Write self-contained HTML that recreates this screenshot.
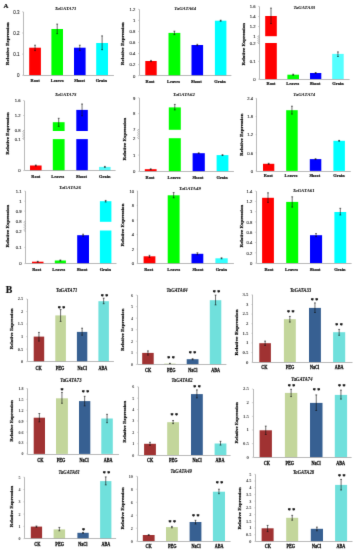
<!DOCTYPE html>
<html><head><meta charset="utf-8"><title>Figure</title>
<style>
html,body{margin:0;padding:0;background:#fff;}
body{width:356px;height:550px;overflow:hidden;}
svg{display:block;font-family:"Liberation Serif",serif;font-weight:bold;fill:#111;filter:url(#bl)}
.yl,.xl,.pl{stroke:#111;stroke-width:.2px}
.a{stroke:#a2a2a2;stroke-width:.5;fill:none}
.e{stroke:#111;stroke-width:.6;fill:none}
.t{font-family:"Liberation Sans",sans-serif;font-weight:normal;font-size:4.5px;text-anchor:end;fill:#2a2a2a;stroke:#2a2a2a;stroke-width:.1px}
.tb{font-size:4.2px;text-anchor:end;fill:#3a3a3a}
.ti{font-size:4.75px;stroke:#111;stroke-width:.06px;font-style:italic;text-anchor:middle}
.yl{font-size:5px;text-anchor:middle}
.xl{font-size:4.85px;text-anchor:middle}
.st{font-size:6px;text-anchor:middle;letter-spacing:1.5px;stroke:#111;stroke-width:.22px}
</style></head><body>
<svg width="356" height="550" viewBox="0 0 356 550">
<defs><filter id="bl" x="0" y="0" width="356" height="550" filterUnits="userSpaceOnUse" color-interpolation-filters="sRGB"><feConvolveMatrix order="3" kernelMatrix="1 10 1 10 100 10 1 10 1" divisor="144" edgeMode="duplicate" preserveAlpha="false"/></filter></defs>
<rect width="356" height="550" fill="#fff"/>
<text x="3.6" y="7.5" class="pl" style="font-size:6.8px">A</text>
<text x="5.7" y="292.5" class="pl" style="font-size:9.8px">B</text>
<g><rect x="29.2" y="47.7" width="11.7" height="27.6" fill="#ff0000"/><rect x="51.4" y="29" width="11.6" height="46.3" fill="#00ff00"/><rect x="74" y="47.7" width="11.6" height="27.6" fill="#0000ff"/><rect x="96.2" y="43" width="11.8" height="32.3" fill="#00ffff"/><path d="M35.05 45.2V50.6M34.15 45.2h1.8M34.15 50.6h1.8" class="e"/><path d="M57.2 24.1V33.7M56.3 24.1h1.8M56.3 33.7h1.8" class="e"/><path d="M79.8 45.2V50.6M78.9 45.2h1.8M78.9 50.6h1.8" class="e"/><path d="M102.1 35.9V49.7M101.2 35.9h1.8M101.2 49.7h1.8" class="e"/><path d="M23.5 11.8V75.5H113.9" class="a" style="stroke-width:.75"/><path d="M23.1 11.8h-1" class="a"/><text x="19.5" y="13.6" class="t" style="font-size:4.5px">0.3</text><path d="M23.1 32.97h-1" class="a"/><text x="19.5" y="34.77" class="t" style="font-size:4.5px">0.2</text><path d="M23.1 54.13h-1" class="a"/><text x="19.5" y="55.93" class="t" style="font-size:4.5px">0.1</text><path d="M23.1 75.3h-1" class="a"/><text x="19.5" y="77.1" class="t" style="font-size:4.5px">0</text><text x="65.6" y="9.6" class="ti">TaGATA71</text><text transform="translate(8.7 43.7) rotate(-90)" class="yl" textLength="42.9" lengthAdjust="spacingAndGlyphs">Relative Expression</text><text transform="translate(35.1 81.9) scale(.9 1)" class="xl" style="font-size:4.9px">Root</text><text transform="translate(57.2 81.9) scale(.9 1)" class="xl" style="font-size:4.9px">Leaves</text><text transform="translate(79.6 81.9) scale(.9 1)" class="xl" style="font-size:4.9px">Shoot</text><text transform="translate(101.3 81.9) scale(.9 1)" class="xl" style="font-size:4.9px">Grain</text></g>
<g><rect x="145.3" y="61" width="11.4" height="14.7" fill="#ff0000"/><rect x="168.5" y="32.9" width="11.8" height="42.8" fill="#00ff00"/><rect x="191.5" y="45" width="11.6" height="30.7" fill="#0000ff"/><rect x="214.9" y="20.7" width="11.5" height="55" fill="#00ffff"/><path d="M151 60.4V61.6M150.1 60.4h1.8M150.1 61.6h1.8" class="e"/><path d="M174.4 31.2V34.6M173.5 31.2h1.8M173.5 34.6h1.8" class="e"/><path d="M197.3 44.3V45.7M196.4 44.3h1.8M196.4 45.7h1.8" class="e"/><path d="M220.65 20.2V21.2M219.75 20.2h1.8M219.75 21.2h1.8" class="e"/><path d="M139.5 9.3V75.5H231.4" class="a" style="stroke-width:.75"/><path d="M139 9.3h-1" class="a"/><text x="135.4" y="11.1" class="t" style="font-size:4.2px">1.2</text><path d="M139 20.37h-1" class="a"/><text x="135.4" y="22.17" class="t" style="font-size:4.2px">1</text><path d="M139 31.43h-1" class="a"/><text x="135.4" y="33.23" class="t" style="font-size:4.2px">0.8</text><path d="M139 42.5h-1" class="a"/><text x="135.4" y="44.3" class="t" style="font-size:4.2px">0.6</text><path d="M139 53.57h-1" class="a"/><text x="135.4" y="55.37" class="t" style="font-size:4.2px">0.4</text><path d="M139 64.63h-1" class="a"/><text x="135.4" y="66.43" class="t" style="font-size:4.2px">0.2</text><path d="M139 75.7h-1" class="a"/><text x="135.4" y="77.5" class="t" style="font-size:4.2px">0</text><text x="185.2" y="9.6" class="ti">TaGATA64</text><text transform="translate(123.8 43.7) rotate(-90)" class="yl" textLength="42.9" lengthAdjust="spacingAndGlyphs">Relative Expression</text><text transform="translate(150 82.8) scale(.9 1)" class="xl" style="font-size:4.9px">Root</text><text transform="translate(173.5 82.8) scale(.9 1)" class="xl" style="font-size:4.9px">Leaves</text><text transform="translate(196.4 82.8) scale(.9 1)" class="xl" style="font-size:4.9px">Shoot</text><text transform="translate(220 82.8) scale(.9 1)" class="xl" style="font-size:4.9px">Grain</text></g>
<g><rect x="265.2" y="16" width="11.6" height="63.2" fill="#ff0000"/><rect x="287.4" y="74.7" width="11.6" height="4.5" fill="#00ff00"/><rect x="310" y="73" width="11.3" height="6.2" fill="#0000ff"/><rect x="332.2" y="53.9" width="11.5" height="25.3" fill="#55ffff"/><rect x="260.1" y="36.2" width="90.5" height="6.8" fill="#fff"/><path d="M271 8.1V23.6M270.1 8.1h1.8M270.1 23.6h1.8" class="e"/><path d="M293.2 74.2V75.2M292.3 74.2h1.8M292.3 75.2h1.8" class="e"/><path d="M315.65 72.5V73.5M314.75 72.5h1.8M314.75 73.5h1.8" class="e"/><path d="M337.95 51.9V56.5M337.05 51.9h1.8M337.05 56.5h1.8" class="e"/><path d="M259.5 6.4V79.5H349.6" class="a" style="stroke-width:.75"/><path d="M259.1 6.4h-1" class="a"/><text x="255.5" y="8.2" class="t" style="font-size:4.2px">1.6</text><path d="M259.1 16.5h-1" class="a"/><text x="255.5" y="18.3" class="t" style="font-size:4.2px">1.4</text><path d="M259.1 26.5h-1" class="a"/><text x="255.5" y="28.3" class="t" style="font-size:4.2px">1.2</text><path d="M259.1 36h-1" class="a"/><text x="255.5" y="37.8" class="t" style="font-size:4.2px">1</text><path d="M259.1 43.5h-1" class="a"/><text x="255.5" y="45.3" class="t" style="font-size:4.2px">0.2</text><path d="M259.1 61.4h-1" class="a"/><text x="255.5" y="63.2" class="t" style="font-size:4.2px">0.1</text><path d="M259.1 79.2h-1" class="a"/><text x="255.5" y="81" class="t" style="font-size:4.2px">0</text><path d="M259.3 35.6L257.5 36.6L259.3 37.6L257.5 38.6L259.3 39.6L257.5 40.6L259.3 41.6L257.5 42.6L259.3 43.6" class="a" style="stroke:#777;stroke-width:.35"/><text x="304.3" y="9.1" class="ti">TaGATA33</text><text transform="translate(244.7 44.2) rotate(-90)" class="yl" textLength="42.4" lengthAdjust="spacingAndGlyphs">Relative Expression</text><text transform="translate(271 85.3) scale(.9 1)" class="xl" style="font-size:4.9px">Root</text><text transform="translate(292.8 85.3) scale(.9 1)" class="xl" style="font-size:4.9px">Leaves</text><text transform="translate(315.1 85.3) scale(.9 1)" class="xl" style="font-size:4.9px">Shoot</text><text transform="translate(338 85.3) scale(.9 1)" class="xl" style="font-size:4.9px">Grain</text></g>
<g><rect x="30" y="165.5" width="11.6" height="5.1" fill="#ff0000"/><rect x="52.8" y="122.2" width="11.8" height="48.4" fill="#00ff00"/><rect x="76.3" y="109.9" width="11.5" height="60.7" fill="#0000ff"/><rect x="99.1" y="166.9" width="11.5" height="3.7" fill="#55f8f8"/><rect x="25.1" y="131" width="91.5" height="8.1" fill="#fff"/><path d="M35.8 165V166M34.9 165h1.8M34.9 166h1.8" class="e"/><path d="M58.7 118.3V126.4M57.8 118.3h1.8M57.8 126.4h1.8" class="e"/><path d="M82.05 104V115.8M81.15 104h1.8M81.15 115.8h1.8" class="e"/><path d="M104.85 166.4V167.4M103.95 166.4h1.8M103.95 167.4h1.8" class="e"/><path d="M24.5 100.6V170.5H115.6" class="a" style="stroke-width:.75"/><path d="M24.1 100.6h-1" class="a"/><text x="20.5" y="102.4" class="t" style="font-size:4.2px">1.6</text><path d="M24.1 115.5h-1" class="a"/><text x="20.5" y="117.3" class="t" style="font-size:4.2px">1.2</text><path d="M24.1 130.5h-1" class="a"/><text x="20.5" y="132.3" class="t" style="font-size:4.2px">0.8</text><path d="M24.1 138.9h-1" class="a"/><text x="20.5" y="140.7" class="t" style="font-size:4.2px">0.1</text><path d="M24.1 170.6h-1" class="a"/><text x="20.5" y="172.4" class="t" style="font-size:4.2px">0</text><path d="M24.3 130.4L22.5 131.56L24.3 132.72L22.5 133.89L24.3 135.05L22.5 136.21L24.3 137.38L22.5 138.54L24.3 139.7" class="a" style="stroke:#777;stroke-width:.35"/><text x="65.6" y="95.9" class="ti">TaGATA73</text><text transform="translate(8.7 133.5) rotate(-90)" class="yl" textLength="42.4" lengthAdjust="spacingAndGlyphs">Relative Expression</text><text transform="translate(35.8 177.5) scale(.9 1)" class="xl" style="font-size:4.9px">Root</text><text transform="translate(57.8 177.5) scale(.9 1)" class="xl" style="font-size:4.9px">Leaves</text><text transform="translate(81.5 177.5) scale(.9 1)" class="xl" style="font-size:4.9px">Shoot</text><text transform="translate(104.7 177.5) scale(.9 1)" class="xl" style="font-size:4.9px">Grain</text></g>
<g><rect x="144.8" y="169.2" width="11.8" height="2.2" fill="#ff0000"/><rect x="168.8" y="107.4" width="12" height="64" fill="#00ff00"/><rect x="192.6" y="153.2" width="12.2" height="18.2" fill="#0000ff"/><rect x="216.6" y="155.1" width="11.8" height="16.3" fill="#00ffff"/><rect x="139.9" y="129.8" width="95" height="8.4" fill="#fff"/><path d="M150.7 168.8V169.6M149.8 168.8h1.8M149.8 169.6h1.8" class="e"/><path d="M174.8 104.4V109.9M173.9 104.4h1.8M173.9 109.9h1.8" class="e"/><path d="M198.7 152.8V153.6M197.8 152.8h1.8M197.8 153.6h1.8" class="e"/><path d="M222.5 154.7V155.5M221.6 154.7h1.8M221.6 155.5h1.8" class="e"/><path d="M139.5 97.8V171.5H233.9" class="a" style="stroke-width:.75"/><path d="M138.9 97.8h-1" class="a"/><text x="135.3" y="99.6" class="t" style="font-size:4.2px">9</text><path d="M138.9 113.6h-1" class="a"/><text x="135.3" y="115.4" class="t" style="font-size:4.2px">8</text><path d="M138.9 129.6h-1" class="a"/><text x="135.3" y="131.4" class="t" style="font-size:4.2px">7</text><path d="M138.9 138.6h-1" class="a"/><text x="135.3" y="140.4" class="t" style="font-size:4.2px">2</text><path d="M138.9 155.1h-1" class="a"/><text x="135.3" y="156.9" class="t" style="font-size:4.2px">1</text><path d="M138.9 171.4h-1" class="a"/><text x="135.3" y="173.2" class="t" style="font-size:4.2px">0</text><path d="M139.1 129.2L137.3 130.4L139.1 131.6L137.3 132.8L139.1 134L137.3 135.2L139.1 136.4L137.3 137.6L139.1 138.8" class="a" style="stroke:#777;stroke-width:.35"/><text x="183.9" y="95.9" class="ti">TaGATA62</text><text transform="translate(126 139.1) rotate(-90)" class="yl" textLength="42.7" lengthAdjust="spacingAndGlyphs">Relative Expression</text><text transform="translate(150 178.7) scale(.9 1)" class="xl" style="font-size:4.9px">Root</text><text transform="translate(174 178.7) scale(.9 1)" class="xl" style="font-size:4.9px">Leaves</text><text transform="translate(198 178.7) scale(.9 1)" class="xl" style="font-size:4.9px">Shoot</text><text transform="translate(222.1 178.7) scale(.9 1)" class="xl" style="font-size:4.9px">Grain</text></g>
<g><rect x="263" y="163.8" width="11.3" height="7.1" fill="#ff0000"/><rect x="286.2" y="110.2" width="11.5" height="60.7" fill="#00ff00"/><rect x="309.8" y="159.1" width="11.5" height="11.8" fill="#0000ff"/><rect x="333.4" y="140.8" width="11.5" height="30.1" fill="#00ffff"/><path d="M268.65 163.3V164.3M267.75 163.3h1.8M267.75 164.3h1.8" class="e"/><path d="M291.95 106.2V114.1M291.05 106.2h1.8M291.05 114.1h1.8" class="e"/><path d="M315.55 158.7V159.5M314.65 158.7h1.8M314.65 159.5h1.8" class="e"/><path d="M339.15 140.4V141.2M338.25 140.4h1.8M338.25 141.2h1.8" class="e"/><path d="M256.5 98.4V171.5H350.8" class="a" style="stroke-width:.75"/><path d="M256.6 98.4h-1" class="a"/><text x="253" y="100.2" class="t" style="font-size:4.2px">2.4</text><path d="M256.6 116.53h-1" class="a"/><text x="253" y="118.33" class="t" style="font-size:4.2px">1.8</text><path d="M256.6 134.65h-1" class="a"/><text x="253" y="136.45" class="t" style="font-size:4.2px">1.2</text><path d="M256.6 152.78h-1" class="a"/><text x="253" y="154.58" class="t" style="font-size:4.2px">0.6</text><path d="M256.6 170.9h-1" class="a"/><text x="253" y="172.7" class="t" style="font-size:4.2px">0</text><text x="304.2" y="95.9" class="ti">TaGATA74</text><text transform="translate(242.9 134.7) rotate(-90)" class="yl" textLength="42.4" lengthAdjust="spacingAndGlyphs">Relative Expression</text><text transform="translate(268.3 177.2) scale(.9 1)" class="xl" style="font-size:4.9px">Root</text><text transform="translate(291 177.2) scale(.9 1)" class="xl" style="font-size:4.9px">Leaves</text><text transform="translate(314.8 177.2) scale(.9 1)" class="xl" style="font-size:4.9px">Shoot</text><text transform="translate(339 177.2) scale(.9 1)" class="xl" style="font-size:4.9px">Grain</text></g>
<g><rect x="32" y="261.7" width="11.5" height="1.9" fill="#ff0000"/><rect x="54.8" y="260.5" width="11.1" height="3.1" fill="#00ff00"/><rect x="77.2" y="235.2" width="11.8" height="28.4" fill="#0000ff"/><rect x="99.9" y="201.2" width="11.5" height="62.4" fill="#00ffff"/><rect x="26.3" y="221.8" width="91.2" height="8.7" fill="#fff"/><path d="M37.75 261.3V262.1M36.85 261.3h1.8M36.85 262.1h1.8" class="e"/><path d="M60.35 260V261M59.45 260h1.8M59.45 261h1.8" class="e"/><path d="M83.1 234.2V236.2M82.2 234.2h1.8M82.2 236.2h1.8" class="e"/><path d="M105.65 200.4V202M104.75 200.4h1.8M104.75 202h1.8" class="e"/><path d="M25.5 191.1V263.5H116.5" class="a" style="stroke-width:.75"/><path d="M25.3 191.1h-1" class="a"/><text x="21.7" y="192.9" class="t" style="font-size:4.2px">1.1</text><path d="M25.3 201.2h-1" class="a"/><text x="21.7" y="203" class="t" style="font-size:4.2px">1</text><path d="M25.3 211.1h-1" class="a"/><text x="21.7" y="212.9" class="t" style="font-size:4.2px">0.9</text><path d="M25.3 221.3h-1" class="a"/><text x="21.7" y="223.1" class="t" style="font-size:4.2px">0.8</text><path d="M25.3 231.4h-1" class="a"/><text x="21.7" y="233.2" class="t" style="font-size:4.2px">0.2</text><path d="M25.3 247.4h-1" class="a"/><text x="21.7" y="249.2" class="t" style="font-size:4.2px">0.1</text><path d="M25.3 263.6h-1" class="a"/><text x="21.7" y="265.4" class="t" style="font-size:4.2px">0</text><path d="M25.5 221.2L23.7 222.44L25.5 223.68L23.7 224.91L25.5 226.15L23.7 227.39L25.5 228.62L23.7 229.86L25.5 231.1" class="a" style="stroke:#777;stroke-width:.35"/><text x="69.9" y="189.2" class="ti">TaGATA26</text><text transform="translate(9.2 226.1) rotate(-90)" class="yl" textLength="42.7" lengthAdjust="spacingAndGlyphs">Relative Expression</text><text transform="translate(36.7 270.8) scale(.9 1)" class="xl" style="font-size:4.9px">Root</text><text transform="translate(58.8 270.8) scale(.9 1)" class="xl" style="font-size:4.9px">Leaves</text><text transform="translate(82.1 270.8) scale(.9 1)" class="xl" style="font-size:4.9px">Shoot</text><text transform="translate(105.3 270.8) scale(.9 1)" class="xl" style="font-size:4.9px">Grain</text></g>
<g><rect x="143.6" y="256.3" width="11.8" height="7.3" fill="#ff0000"/><rect x="167.7" y="195.3" width="11.9" height="68.3" fill="#00ff00"/><rect x="191.5" y="253.8" width="11.8" height="9.8" fill="#0000ff"/><rect x="215.4" y="258.3" width="12.3" height="5.3" fill="#33ffff"/><path d="M149.5 255.3V257.3M148.6 255.3h1.8M148.6 257.3h1.8" class="e"/><path d="M173.65 192.6V197.8M172.75 192.6h1.8M172.75 197.8h1.8" class="e"/><path d="M197.4 252.8V254.8M196.5 252.8h1.8M196.5 254.8h1.8" class="e"/><path d="M221.55 257.8V258.8M220.65 257.8h1.8M220.65 258.8h1.8" class="e"/><path d="M137.5 190.9V263.5H233.9" class="a" style="stroke-width:.75"/><path d="M137.7 190.9h-1" class="a"/><text x="134.1" y="192.7" class="t" style="font-size:4.2px">10</text><path d="M137.7 205.44h-1" class="a"/><text x="134.1" y="207.24" class="t" style="font-size:4.2px">8</text><path d="M137.7 219.98h-1" class="a"/><text x="134.1" y="221.78" class="t" style="font-size:4.2px">6</text><path d="M137.7 234.52h-1" class="a"/><text x="134.1" y="236.32" class="t" style="font-size:4.2px">4</text><path d="M137.7 249.06h-1" class="a"/><text x="134.1" y="250.86" class="t" style="font-size:4.2px">2</text><path d="M137.7 263.6h-1" class="a"/><text x="134.1" y="265.4" class="t" style="font-size:4.2px">0</text><text x="189.9" y="189.5" class="ti">TaGATA49</text><text transform="translate(124.2 225) rotate(-90)" class="yl" textLength="42.9" lengthAdjust="spacingAndGlyphs">Relative Expression</text><text transform="translate(148.7 270.8) scale(.9 1)" class="xl" style="font-size:4.9px">Root</text><text transform="translate(173.8 270.8) scale(.9 1)" class="xl" style="font-size:4.9px">Leaves</text><text transform="translate(198 270.8) scale(.9 1)" class="xl" style="font-size:4.9px">Shoot</text><text transform="translate(221.3 270.8) scale(.9 1)" class="xl" style="font-size:4.9px">Grain</text></g>
<g><rect x="262.1" y="197.8" width="11.8" height="65.3" fill="#ff0000"/><rect x="286.2" y="201.9" width="12" height="61.2" fill="#00ff00"/><rect x="310" y="235.2" width="12.1" height="27.9" fill="#0000ff"/><rect x="334.4" y="212" width="11.8" height="51.1" fill="#00ffff"/><path d="M268 192.8V202.4M267.1 192.8h1.8M267.1 202.4h1.8" class="e"/><path d="M292.2 196.8V207.1M291.3 196.8h1.8M291.3 207.1h1.8" class="e"/><path d="M316.05 233.6V236.6M315.15 233.6h1.8M315.15 236.6h1.8" class="e"/><path d="M340.3 208.3V215M339.4 208.3h1.8M339.4 215h1.8" class="e"/><path d="M256.5 191.1V263.5H351.6" class="a" style="stroke-width:.75"/><path d="M255.9 191.1h-1" class="a"/><text x="252.3" y="192.9" class="t" style="font-size:4.2px">1.4</text><path d="M255.9 201.39h-1" class="a"/><text x="252.3" y="203.19" class="t" style="font-size:4.2px">1.2</text><path d="M255.9 211.67h-1" class="a"/><text x="252.3" y="213.47" class="t" style="font-size:4.2px">1</text><path d="M255.9 221.96h-1" class="a"/><text x="252.3" y="223.76" class="t" style="font-size:4.2px">0.8</text><path d="M255.9 232.24h-1" class="a"/><text x="252.3" y="234.04" class="t" style="font-size:4.2px">0.6</text><path d="M255.9 242.53h-1" class="a"/><text x="252.3" y="244.33" class="t" style="font-size:4.2px">0.4</text><path d="M255.9 252.81h-1" class="a"/><text x="252.3" y="254.61" class="t" style="font-size:4.2px">0.2</text><path d="M255.9 263.1h-1" class="a"/><text x="252.3" y="264.9" class="t" style="font-size:4.2px">0</text><text x="303.7" y="192.1" class="ti">TaGATA61</text><text transform="translate(242.7 226.1) rotate(-90)" class="yl" textLength="42.7" lengthAdjust="spacingAndGlyphs">Relative Expression</text><text transform="translate(268.9 270.8) scale(.9 1)" class="xl" style="font-size:4.9px">Root</text><text transform="translate(291.5 270.8) scale(.9 1)" class="xl" style="font-size:4.9px">Leaves</text><text transform="translate(315.2 270.8) scale(.9 1)" class="xl" style="font-size:4.9px">Shoot</text><text transform="translate(339.8 270.8) scale(.9 1)" class="xl" style="font-size:4.9px">Grain</text></g>
<g><rect x="33.7" y="336.6" width="10.5" height="25.1" fill="#a03232"/><rect x="55.3" y="315.4" width="10.6" height="46.3" fill="#c3d69b"/><rect x="76.9" y="331.9" width="10.4" height="29.8" fill="#376092"/><rect x="98.4" y="301.2" width="10.5" height="60.5" fill="#70e0dc"/><path d="M38.95 332.4V341.1M38.05 332.4h1.8M38.05 341.1h1.8" class="e"/><path d="M60.6 309.6V321.4M59.7 309.6h1.8M59.7 321.4h1.8" class="e"/><path d="M82.1 328.2V335.2M81.2 328.2h1.8M81.2 335.2h1.8" class="e"/><path d="M103.65 298.2V303.7M102.75 298.2h1.8M102.75 303.7h1.8" class="e"/><path d="M27.5 299V361.5H113.9" class="a" style="stroke-width:.75"/><path d="M27.2 299h-1" class="a"/><text x="23.2" y="300.4" class="tb" style="font-size:4.3px">2.5</text><path d="M27.2 311.54h-1" class="a"/><text x="23.2" y="312.94" class="tb" style="font-size:4.3px">2</text><path d="M27.2 324.08h-1" class="a"/><text x="23.2" y="325.48" class="tb" style="font-size:4.3px">1.5</text><path d="M27.2 336.62h-1" class="a"/><text x="23.2" y="338.02" class="tb" style="font-size:4.3px">1</text><path d="M27.2 349.16h-1" class="a"/><text x="23.2" y="350.56" class="tb" style="font-size:4.3px">0.5</text><path d="M27.2 361.7h-1" class="a"/><text x="23.2" y="363.1" class="tb" style="font-size:4.3px">0</text><text transform="translate(66.7 292.4) scale(.86 1)" class="ti" style="font-size:5.4px;stroke-width:.12px">TaGATA71</text><text transform="translate(12.9 328.8) rotate(-90)" class="yl" textLength="40.7" lengthAdjust="spacingAndGlyphs">Relative Expression</text><text transform="translate(38.6 369.5) scale(.8 1)" class="xl" style="font-size:5.2px;stroke-width:.28px">CK</text><text transform="translate(59.9 369.5) scale(.8 1)" class="xl" style="font-size:5.2px;stroke-width:.28px">PEG</text><text transform="translate(82.2 369.5) scale(.8 1)" class="xl" style="font-size:5.2px;stroke-width:.28px">NaCl</text><text transform="translate(102.8 369.5) scale(.8 1)" class="xl" style="font-size:5.2px;stroke-width:.28px">ABA</text><text x="62.35" y="309.6" class="st">**</text><text x="105.25" y="298.4" class="st">**</text></g>
<g><rect x="142.2" y="352.9" width="11.5" height="11.5" fill="#a03232"/><rect x="164.2" y="363.6" width="11.4" height="0.8" fill="#c3d69b"/><rect x="186.7" y="359.2" width="11.8" height="5.2" fill="#376092"/><rect x="209.8" y="300.2" width="11.5" height="64.2" fill="#70e0dc"/><path d="M147.95 350.9V355.1M147.05 350.9h1.8M147.05 355.1h1.8" class="e"/><path d="M169.9 363.3V363.9M169 363.3h1.8M169 363.9h1.8" class="e"/><path d="M192.6 358.7V359.7M191.7 358.7h1.8M191.7 359.7h1.8" class="e"/><path d="M215.55 295.1V304.9M214.65 295.1h1.8M214.65 304.9h1.8" class="e"/><path d="M137.5 295.1V364.5H226.4" class="a" style="stroke-width:.75"/><path d="M136.9 295.1h-1" class="a"/><text x="132.9" y="296.5" class="tb" style="font-size:4.0px">6</text><path d="M136.9 306.65h-1" class="a"/><text x="132.9" y="308.05" class="tb" style="font-size:4.0px">5</text><path d="M136.9 318.2h-1" class="a"/><text x="132.9" y="319.6" class="tb" style="font-size:4.0px">4</text><path d="M136.9 329.75h-1" class="a"/><text x="132.9" y="331.15" class="tb" style="font-size:4.0px">3</text><path d="M136.9 341.3h-1" class="a"/><text x="132.9" y="342.7" class="tb" style="font-size:4.0px">2</text><path d="M136.9 352.85h-1" class="a"/><text x="132.9" y="354.25" class="tb" style="font-size:4.0px">1</text><path d="M136.9 364.4h-1" class="a"/><text x="132.9" y="365.8" class="tb" style="font-size:4.0px">0</text><text transform="translate(177 292) scale(.86 1)" class="ti" style="font-size:5.4px;stroke-width:.12px">TaGATA64</text><text transform="translate(123.7 329.7) rotate(-90)" class="yl" textLength="42.4" lengthAdjust="spacingAndGlyphs">Relative Expression</text><text transform="translate(148 371.7) scale(.8 1)" class="xl" style="font-size:5.2px;stroke-width:.28px">CK</text><text transform="translate(171.2 371.7) scale(.8 1)" class="xl" style="font-size:5.2px;stroke-width:.28px">PEG</text><text transform="translate(192.9 371.7) scale(.8 1)" class="xl" style="font-size:5.2px;stroke-width:.28px">NaCl</text><text transform="translate(215.7 371.7) scale(.8 1)" class="xl" style="font-size:5.2px;stroke-width:.28px">ABA</text><text x="171.75" y="359.8" class="st">**</text><text x="193.15" y="355" class="st">**</text><text x="217.35" y="294.3" class="st">**</text></g>
<g><rect x="259.3" y="343.2" width="11.6" height="19" fill="#a03232"/><rect x="283.9" y="319.2" width="11.9" height="43" fill="#c3d69b"/><rect x="309" y="307.9" width="11.9" height="54.3" fill="#376092"/><rect x="333.1" y="332.2" width="12.1" height="30" fill="#70e0dc"/><path d="M265.1 341.1V345.4M264.2 341.1h1.8M264.2 345.4h1.8" class="e"/><path d="M289.85 316.4V322.1M288.95 316.4h1.8M288.95 322.1h1.8" class="e"/><path d="M314.95 302.9V312.5M314.05 302.9h1.8M314.05 312.5h1.8" class="e"/><path d="M339.15 329.4V335.3M338.25 329.4h1.8M338.25 335.3h1.8" class="e"/><path d="M252.5 294.8V362.5H352.5" class="a" style="stroke-width:.75"/><path d="M252.5 294.8h-1" class="a"/><text x="248.5" y="296.2" class="tb" style="font-size:4.8px">3.5</text><path d="M252.5 304.43h-1" class="a"/><text x="248.5" y="305.83" class="tb" style="font-size:4.8px">3</text><path d="M252.5 314.06h-1" class="a"/><text x="248.5" y="315.46" class="tb" style="font-size:4.8px">2.5</text><path d="M252.5 323.69h-1" class="a"/><text x="248.5" y="325.09" class="tb" style="font-size:4.8px">2</text><path d="M252.5 333.31h-1" class="a"/><text x="248.5" y="334.71" class="tb" style="font-size:4.8px">1.5</text><path d="M252.5 342.94h-1" class="a"/><text x="248.5" y="344.34" class="tb" style="font-size:4.8px">1</text><path d="M252.5 352.57h-1" class="a"/><text x="248.5" y="353.97" class="tb" style="font-size:4.8px">0.5</text><path d="M252.5 362.2h-1" class="a"/><text x="248.5" y="363.6" class="tb" style="font-size:4.8px">0</text><text transform="translate(300.5 291.5) scale(.86 1)" class="ti" style="font-size:5.4px;stroke-width:.12px">TaGATA33</text><text transform="translate(237.6 332.5) rotate(-90)" class="yl" textLength="46.1" lengthAdjust="spacingAndGlyphs">Relative Expression</text><text transform="translate(264.4 369.1) scale(.8 1)" class="xl" style="font-size:5.2px;stroke-width:.28px">CK</text><text transform="translate(289.9 369.1) scale(.8 1)" class="xl" style="font-size:5.2px;stroke-width:.28px">PEG</text><text transform="translate(314.5 369.1) scale(.8 1)" class="xl" style="font-size:5.2px;stroke-width:.28px">NaCl</text><text transform="translate(339.2 369.1) scale(.8 1)" class="xl" style="font-size:5.2px;stroke-width:.28px">ABA</text><text x="291.55" y="313.7" class="st">**</text><text x="315.25" y="301.7" class="st">**</text><text x="339.85" y="326.7" class="st">**</text></g>
<g><rect x="33.7" y="417.7" width="11.3" height="36.2" fill="#a03232"/><rect x="56" y="398.3" width="11.9" height="55.6" fill="#c3d69b"/><rect x="79" y="401.1" width="11.3" height="52.8" fill="#376092"/><rect x="101.3" y="418.5" width="11.5" height="35.4" fill="#70e0dc"/><path d="M39.35 413.5V421.9M38.45 413.5h1.8M38.45 421.9h1.8" class="e"/><path d="M61.95 392.4V403.3M61.05 392.4h1.8M61.05 403.3h1.8" class="e"/><path d="M84.65 396.3V405.9M83.75 396.3h1.8M83.75 405.9h1.8" class="e"/><path d="M107.05 414.3V422.7M106.15 414.3h1.8M106.15 422.7h1.8" class="e"/><path d="M27.5 388.5V454.5H119" class="a" style="stroke-width:.75"/><path d="M27.4 388.5h-1" class="a"/><text x="23.4" y="389.9" class="tb" style="font-size:4.0px">1.8</text><path d="M27.4 399.4h-1" class="a"/><text x="23.4" y="400.8" class="tb" style="font-size:4.0px">1.5</text><path d="M27.4 410.3h-1" class="a"/><text x="23.4" y="411.7" class="tb" style="font-size:4.0px">1.2</text><path d="M27.4 421.2h-1" class="a"/><text x="23.4" y="422.6" class="tb" style="font-size:4.0px">0.9</text><path d="M27.4 432.1h-1" class="a"/><text x="23.4" y="433.5" class="tb" style="font-size:4.0px">0.6</text><path d="M27.4 443h-1" class="a"/><text x="23.4" y="444.4" class="tb" style="font-size:4.0px">0.3</text><path d="M27.4 453.9h-1" class="a"/><text x="23.4" y="455.3" class="tb" style="font-size:4.0px">0</text><text transform="translate(70.9 382) scale(.86 1)" class="ti" style="font-size:5.4px;stroke-width:.12px">TaGATA73</text><text transform="translate(13.2 421) rotate(-90)" class="yl" textLength="41.5" lengthAdjust="spacingAndGlyphs">Relative Expression</text><text transform="translate(40.3 461.7) scale(.8 1)" class="xl" style="font-size:5.2px;stroke-width:.28px">CK</text><text transform="translate(60.9 461.7) scale(.8 1)" class="xl" style="font-size:5.2px;stroke-width:.28px">PEG</text><text transform="translate(84 461.7) scale(.8 1)" class="xl" style="font-size:5.2px;stroke-width:.28px">NaCl</text><text transform="translate(108.2 461.7) scale(.8 1)" class="xl" style="font-size:5.2px;stroke-width:.28px">ABA</text><text x="62.75" y="391.9" class="st">*</text><text x="86.25" y="393.6" class="st">**</text></g>
<g><rect x="144.1" y="443.8" width="11.8" height="11.3" fill="#a03232"/><rect x="167.2" y="422.2" width="11.8" height="32.9" fill="#c3d69b"/><rect x="191" y="394.1" width="11.8" height="61" fill="#376092"/><rect x="214.6" y="443.5" width="11.8" height="11.6" fill="#70e0dc"/><path d="M150 442.3V445.3M149.1 442.3h1.8M149.1 445.3h1.8" class="e"/><path d="M173.1 420.5V423.6M172.2 420.5h1.8M172.2 423.6h1.8" class="e"/><path d="M196.9 389.9V397.9M196 389.9h1.8M196 397.9h1.8" class="e"/><path d="M220.5 441.3V445.1M219.6 441.3h1.8M219.6 445.1h1.8" class="e"/><path d="M138.5 386.8V455.5H230.6" class="a" style="stroke-width:.75"/><path d="M138.2 386.8h-1" class="a"/><text x="134.2" y="388.2" class="tb" style="font-size:4.0px">6</text><path d="M138.2 398.18h-1" class="a"/><text x="134.2" y="399.58" class="tb" style="font-size:4.0px">5</text><path d="M138.2 409.57h-1" class="a"/><text x="134.2" y="410.97" class="tb" style="font-size:4.0px">4</text><path d="M138.2 420.95h-1" class="a"/><text x="134.2" y="422.35" class="tb" style="font-size:4.0px">3</text><path d="M138.2 432.33h-1" class="a"/><text x="134.2" y="433.73" class="tb" style="font-size:4.0px">2</text><path d="M138.2 443.72h-1" class="a"/><text x="134.2" y="445.12" class="tb" style="font-size:4.0px">1</text><path d="M138.2 455.1h-1" class="a"/><text x="134.2" y="456.5" class="tb" style="font-size:4.0px">0</text><text transform="translate(182 382.3) scale(.86 1)" class="ti" style="font-size:5.4px;stroke-width:.12px">TaGATA62</text><text transform="translate(125.5 421.7) rotate(-90)" class="yl" textLength="41.9" lengthAdjust="spacingAndGlyphs">Relative Expression</text><text transform="translate(150.2 462.3) scale(.8 1)" class="xl" style="font-size:5.2px;stroke-width:.28px">CK</text><text transform="translate(173.3 462.3) scale(.8 1)" class="xl" style="font-size:5.2px;stroke-width:.28px">PEG</text><text transform="translate(197 462.3) scale(.8 1)" class="xl" style="font-size:5.2px;stroke-width:.28px">NaCl</text><text transform="translate(220 462.3) scale(.8 1)" class="xl" style="font-size:5.2px;stroke-width:.28px">ABA</text><text x="175.05" y="417.2" class="st">**</text><text x="197.75" y="389.3" class="st">**</text></g>
<g><rect x="259.6" y="430.3" width="12.3" height="27" fill="#a03232"/><rect x="284.9" y="392.9" width="12.4" height="64.4" fill="#c3d69b"/><rect x="310" y="402.9" width="12.5" height="54.4" fill="#376092"/><rect x="334.8" y="394.9" width="12.3" height="62.4" fill="#70e0dc"/><path d="M265.75 426.1V434.5M264.85 426.1h1.8M264.85 434.5h1.8" class="e"/><path d="M291.1 389.3V396.6M290.2 389.3h1.8M290.2 396.6h1.8" class="e"/><path d="M316.25 394.9V410.5M315.35 394.9h1.8M315.35 410.5h1.8" class="e"/><path d="M340.95 390.1V399.1M340.05 390.1h1.8M340.05 399.1h1.8" class="e"/><path d="M253.5 389V457.5H351.6" class="a" style="stroke-width:.75"/><path d="M252.9 389h-1" class="a"/><text x="248.9" y="390.4" class="tb" style="font-size:4.7px">2.5</text><path d="M252.9 402.66h-1" class="a"/><text x="248.9" y="404.06" class="tb" style="font-size:4.7px">2</text><path d="M252.9 416.32h-1" class="a"/><text x="248.9" y="417.72" class="tb" style="font-size:4.7px">1.5</text><path d="M252.9 429.98h-1" class="a"/><text x="248.9" y="431.38" class="tb" style="font-size:4.7px">1</text><path d="M252.9 443.64h-1" class="a"/><text x="248.9" y="445.04" class="tb" style="font-size:4.7px">0.5</text><path d="M252.9 457.3h-1" class="a"/><text x="248.9" y="458.7" class="tb" style="font-size:4.7px">0</text><text transform="translate(301.9 380.5) scale(.86 1)" class="ti" style="font-size:5.4px;stroke-width:.12px">TaGATA74</text><text transform="translate(237.6 422.9) rotate(-90)" class="yl" textLength="41.2" lengthAdjust="spacingAndGlyphs">Relative Expression</text><text transform="translate(266.8 464.7) scale(.8 1)" class="xl" style="font-size:5.2px;stroke-width:.28px">CK</text><text transform="translate(289.7 464.7) scale(.8 1)" class="xl" style="font-size:5.2px;stroke-width:.28px">PEG</text><text transform="translate(316.1 464.7) scale(.8 1)" class="xl" style="font-size:5.2px;stroke-width:.28px">NaCl</text><text transform="translate(340.7 464.7) scale(.8 1)" class="xl" style="font-size:5.2px;stroke-width:.28px">ABA</text><text x="292.25" y="387.7" class="st">**</text><text x="317.35" y="391.8" class="st">**</text><text x="342.45" y="387.6" class="st">**</text></g>
<g><rect x="30.8" y="526.6" width="11.3" height="12.1" fill="#a03232"/><rect x="53.6" y="529.4" width="11.5" height="9.3" fill="#c3d69b"/><rect x="77.4" y="532.8" width="11.3" height="5.9" fill="#376092"/><rect x="100.1" y="481.1" width="11.3" height="57.6" fill="#70e0dc"/><path d="M36.45 526V527.2M35.55 526h1.8M35.55 527.2h1.8" class="e"/><path d="M59.35 527.4V530.8M58.45 527.4h1.8M58.45 530.8h1.8" class="e"/><path d="M83.05 532.4V533.2M82.15 532.4h1.8M82.15 533.2h1.8" class="e"/><path d="M105.75 476.9V484.9M104.85 476.9h1.8M104.85 484.9h1.8" class="e"/><path d="M24.5 477.2V538.5H116.1" class="a" style="stroke-width:.75"/><path d="M24.4 477.2h-1" class="a"/><text x="20.4" y="478.6" class="tb" style="font-size:4.0px">5</text><path d="M24.4 489.5h-1" class="a"/><text x="20.4" y="490.9" class="tb" style="font-size:4.0px">4</text><path d="M24.4 501.8h-1" class="a"/><text x="20.4" y="503.2" class="tb" style="font-size:4.0px">3</text><path d="M24.4 514.1h-1" class="a"/><text x="20.4" y="515.5" class="tb" style="font-size:4.0px">2</text><path d="M24.4 526.4h-1" class="a"/><text x="20.4" y="527.8" class="tb" style="font-size:4.0px">1</text><path d="M24.4 538.7h-1" class="a"/><text x="20.4" y="540.1" class="tb" style="font-size:4.0px">0</text><text transform="translate(69.2 473.9) scale(.86 1)" class="ti" style="font-size:5.4px;stroke-width:.12px">TaGATA61</text><text transform="translate(12.6 506.4) rotate(-90)" class="yl" textLength="41.5" lengthAdjust="spacingAndGlyphs">Relative Expression</text><text transform="translate(37.3 545.6) scale(.8 1)" class="xl" style="font-size:5.2px;stroke-width:.28px">CK</text><text transform="translate(59.6 545.6) scale(.8 1)" class="xl" style="font-size:5.2px;stroke-width:.28px">PEG</text><text transform="translate(82.8 545.6) scale(.8 1)" class="xl" style="font-size:5.2px;stroke-width:.28px">NaCl</text><text transform="translate(105.9 545.6) scale(.8 1)" class="xl" style="font-size:5.2px;stroke-width:.28px">ABA</text><text x="84.35" y="531.5" class="st">*</text><text x="107.25" y="475" class="st">**</text></g>
<g><rect x="142.8" y="535" width="11.8" height="6.2" fill="#a03232"/><rect x="166" y="527.1" width="11.8" height="14.1" fill="#c3d69b"/><rect x="189.6" y="522" width="11.8" height="19.2" fill="#376092"/><rect x="212.9" y="491.7" width="12.1" height="49.5" fill="#70e0dc"/><path d="M148.7 534.6V535.4M147.8 534.6h1.8M147.8 535.4h1.8" class="e"/><path d="M171.9 526.4V527.8M171 526.4h1.8M171 527.8h1.8" class="e"/><path d="M195.5 520.3V524M194.6 520.3h1.8M194.6 524h1.8" class="e"/><path d="M218.95 489.2V493.7M218.05 489.2h1.8M218.05 493.7h1.8" class="e"/><path d="M137.5 476.3V541.5H230.6" class="a" style="stroke-width:.75"/><path d="M136.9 476.3h-1" class="a"/><text x="132.9" y="477.7" class="tb" style="font-size:4.1px">10</text><path d="M136.9 489.28h-1" class="a"/><text x="132.9" y="490.68" class="tb" style="font-size:4.1px">8</text><path d="M136.9 502.26h-1" class="a"/><text x="132.9" y="503.66" class="tb" style="font-size:4.1px">6</text><path d="M136.9 515.24h-1" class="a"/><text x="132.9" y="516.64" class="tb" style="font-size:4.1px">4</text><path d="M136.9 528.22h-1" class="a"/><text x="132.9" y="529.62" class="tb" style="font-size:4.1px">2</text><path d="M136.9 541.2h-1" class="a"/><text x="132.9" y="542.6" class="tb" style="font-size:4.1px">0</text><text transform="translate(181.2 472.7) scale(.86 1)" class="ti" style="font-size:5.4px;stroke-width:.12px">TaGATA49</text><text transform="translate(123.8 508.4) rotate(-90)" class="yl" textLength="42.4" lengthAdjust="spacingAndGlyphs">Relative Expression</text><text transform="translate(148.7 547.8) scale(.8 1)" class="xl" style="font-size:5.2px;stroke-width:.28px">CK</text><text transform="translate(172.3 547.8) scale(.8 1)" class="xl" style="font-size:5.2px;stroke-width:.28px">PEG</text><text transform="translate(196 547.8) scale(.8 1)" class="xl" style="font-size:5.2px;stroke-width:.28px">NaCl</text><text transform="translate(219.2 547.8) scale(.8 1)" class="xl" style="font-size:5.2px;stroke-width:.28px">ABA</text><text x="172.95" y="524.2" class="st">**</text><text x="196.45" y="518" class="st">**</text><text x="220.15" y="484.8" class="st">**</text></g>
<g><rect x="261.6" y="528.3" width="12" height="13.1" fill="#a03232"/><rect x="286.2" y="517.8" width="12" height="23.6" fill="#c3d69b"/><rect x="310.8" y="528.8" width="12.2" height="12.6" fill="#376092"/><rect x="335.1" y="484.9" width="12" height="56.5" fill="#70e0dc"/><path d="M267.6 525.4V531.6M266.7 525.4h1.8M266.7 531.6h1.8" class="e"/><path d="M292.2 515.3V520.2M291.3 515.3h1.8M291.3 520.2h1.8" class="e"/><path d="M316.9 527.1V530.8M316 527.1h1.8M316 530.8h1.8" class="e"/><path d="M341.1 479.4V490M340.2 479.4h1.8M340.2 490h1.8" class="e"/><path d="M255.5 474.3V541.5H352.5" class="a" style="stroke-width:.75"/><path d="M255.4 474.3h-1" class="a"/><text x="251.4" y="475.7" class="tb" style="font-size:4.3px">5</text><path d="M255.4 481.01h-1" class="a"/><text x="251.4" y="482.41" class="tb" style="font-size:4.3px">4.5</text><path d="M255.4 487.72h-1" class="a"/><text x="251.4" y="489.12" class="tb" style="font-size:4.3px">4</text><path d="M255.4 494.43h-1" class="a"/><text x="251.4" y="495.83" class="tb" style="font-size:4.3px">3.5</text><path d="M255.4 501.14h-1" class="a"/><text x="251.4" y="502.54" class="tb" style="font-size:4.3px">3</text><path d="M255.4 507.85h-1" class="a"/><text x="251.4" y="509.25" class="tb" style="font-size:4.3px">2.5</text><path d="M255.4 514.56h-1" class="a"/><text x="251.4" y="515.96" class="tb" style="font-size:4.3px">2</text><path d="M255.4 521.27h-1" class="a"/><text x="251.4" y="522.67" class="tb" style="font-size:4.3px">1.5</text><path d="M255.4 527.98h-1" class="a"/><text x="251.4" y="529.38" class="tb" style="font-size:4.3px">1</text><path d="M255.4 534.69h-1" class="a"/><text x="251.4" y="536.09" class="tb" style="font-size:4.3px">0.5</text><path d="M255.4 541.4h-1" class="a"/><text x="251.4" y="542.8" class="tb" style="font-size:4.3px">0</text><text transform="translate(303.5 473.9) scale(.86 1)" class="ti" style="font-size:5.4px;stroke-width:.12px">TaGATA26</text><text transform="translate(241.2 508.4) rotate(-90)" class="yl" textLength="42.4" lengthAdjust="spacingAndGlyphs">Relative Expression</text><text transform="translate(267.9 547.8) scale(.8 1)" class="xl" style="font-size:5.2px;stroke-width:.28px">CK</text><text transform="translate(290.8 547.8) scale(.8 1)" class="xl" style="font-size:5.2px;stroke-width:.28px">PEG</text><text transform="translate(316.6 547.8) scale(.8 1)" class="xl" style="font-size:5.2px;stroke-width:.28px">NaCl</text><text transform="translate(340.9 547.8) scale(.8 1)" class="xl" style="font-size:5.2px;stroke-width:.28px">ABA</text><text x="292.35" y="511.7" class="st">**</text><text x="342.45" y="478" class="st">**</text></g>
</svg>
</body></html>
